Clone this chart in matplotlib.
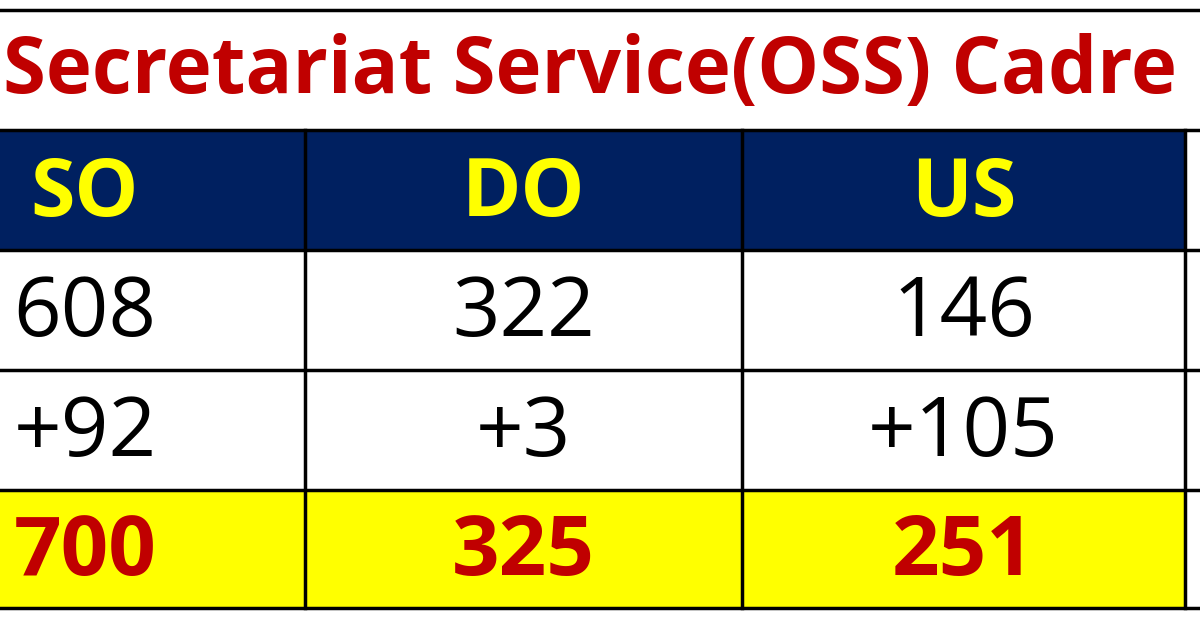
import matplotlib
matplotlib.use("Agg")
import matplotlib.pyplot as plt
from matplotlib.patches import Rectangle

title = "Secretariat Service(OSS) Cadre"
headers = ["SO", "DO", "US"]
row1 = ["608", "322", "146"]
row2 = ["+92", "+3", "+105"]
totals = ["700", "325", "251"]

W, H = 1200, 630
fig = plt.figure(figsize=(12, 6.3), dpi=100)
ax = fig.add_axes([0, 0, 1, 1])
ax.set_xlim(0, W); ax.set_ylim(H, 0); ax.axis("off")

col_edges = [-135, 305, 742, 1185]
row_edges = [130, 250, 370, 490, 608]
navy = "#002060"; yellow = "#ffff00"; red = "#c00000"
font = "Open Sans"

ax.text(590, 72, title, ha="center", va="center", fontsize=56, fontweight="bold",
        color=red, family=font)
ax.add_patch(Rectangle((-10, row_edges[0]), col_edges[-1] + 10, row_edges[1] - row_edges[0], color=navy, zorder=0))
ax.add_patch(Rectangle((-10, row_edges[3]), col_edges[-1] + 10, row_edges[4] - row_edges[3], color=yellow, zorder=0))

for y in [10] + row_edges:
    ax.plot([0, W], [y, y], color="black", lw=2.5)
for x in col_edges[1:]:
    ax.plot([x, x], [row_edges[0], row_edges[-1]], color="black", lw=2.5)

rows = [(headers, "bold", yellow, 58), (row1, "normal", "black", 60),
        (row2, "normal", "black", 60), (totals, "bold", red, 60)]
for i, (vals, wt, col, fs) in enumerate(rows):
    yc = (row_edges[i] + row_edges[i + 1]) / 2 + 5
    for j, v in enumerate(vals):
        xc = (col_edges[j] + col_edges[j + 1]) / 2
        ax.text(xc, yc, v, ha="center", va="center", fontsize=fs, fontweight=wt,
                color=col, family=font)

fig.savefig("out.png", dpi=100, facecolor="white")
